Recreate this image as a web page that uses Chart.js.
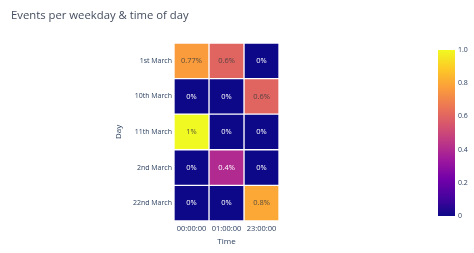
<!DOCTYPE html>
<html>
<head>
<meta charset="utf-8">
<script src="https://cdn.jsdelivr.net/npm/chart.js@4.4.1/dist/chart.umd.min.js"></script>
<style>
body { margin: 0; background: #fff; }
#wrap { position: relative; width: 474px; height: 253px; }
#heat { position: absolute; left: 0; top: 0; }
#barra { position: absolute; left: 430px; top: 0; }
</style>
</head>
<body>
<div id="wrap">
    <canvas id="heat" width="474" height="253"></canvas>
    <canvas id="barra" width="44" height="253"></canvas>
</div>
<script>
//#region dados
const days = ['1st March', '10th March', '11th March', '2nd March', '22nd March']
const times = ['00:00:00', '01:00:00', '23:00:00']

// um array por coluna (hora), na ordem dos dias
const val0000 = [0.77, 0, 1, 0, 0]
const val0100 = [0.6, 0, 0, 0.4, 0]
const val2300 = [0, 0.6, 0, 0, 0.8]

const colorTicks = [0, 0.2, 0.4, 0.6, 0.8, 1]
//#endregion

const plasmaStops = ['#0d0887', '#46039f', '#7201a8', '#9c179e', '#bd3786',
    '#d8576b', '#ed7953', '#fb9f3a', '#fdca26', '#f0f921']
const textColor = '#2a3f5f'
const fonte = '"Open Sans", "Noto Sans", sans-serif'

function hexRgb(h) {
    return [parseInt(h.substr(1, 2), 16), parseInt(h.substr(3, 2), 16), parseInt(h.substr(5, 2), 16)]
}

function plasma(v) {
    let p = Math.max(0, Math.min(1, v)) * (plasmaStops.length - 1)
    let i = Math.min(Math.floor(p), plasmaStops.length - 2)
    let t = p - i
    let a = hexRgb(plasmaStops[i])
    let b = hexRgb(plasmaStops[i + 1])
    let c = a.map((x, k) => Math.round(x + (b[k] - x) * t))
    return `rgb(${c[0]},${c[1]},${c[2]})`
}

//#region heatmap
const colunas = [val0000, val0100, val2300]

const datasets = colunas.map((vals, col) => ({
    label: times[col],
    data: vals.map(() => [col, col + 1]),
    valores: vals,
    backgroundColor: vals.map(v => plasma(v)),
    borderColor: '#ffffff',
    borderWidth: 1,
    borderSkipped: false,
    categoryPercentage: 1,
    barPercentage: 1
}))

const textoCelulas = {
    id: 'textoCelulas',
    afterDatasetsDraw(chart) {
        const ctx = chart.ctx
        chart.data.datasets.forEach((ds, i) => {
            chart.getDatasetMeta(i).data.forEach((bar, j) => {
                const v = ds.valores[j]
                const p = bar.getCenterPoint()
                ctx.save()
                ctx.font = '7.5px ' + fonte
                ctx.fillStyle = v >= 0.5 ? 'rgba(60,60,60,0.85)' : '#ffffff'
                ctx.textAlign = 'center'
                ctx.textBaseline = 'middle'
                ctx.fillText(v + '%', p.x, p.y)
                ctx.restore()
            })
        })
    }
}

new Chart(document.getElementById('heat'), {
    type: 'bar',
    data: { labels: days, datasets: datasets },
    plugins: [textoCelulas],
    options: {
        indexAxis: 'y',
        responsive: false,
        animation: false,
        layout: { padding: { left: 11, right: 195, top: 0, bottom: 4 } },
        plugins: {
            legend: { display: false },
            tooltip: { enabled: false },
            title: {
                display: true,
                text: 'Events per weekday & time of day',
                align: 'start',
                color: '#444d5f',
                font: { family: fonte, size: 11.3, weight: 'normal' },
                padding: { top: 8.5, bottom: 20.9 }
            }
        },
        scales: {
            x: {
                type: 'linear',
                min: 0,
                max: 3,
                stacked: false,
                afterBuildTicks: s => { s.ticks = times.map((t, i) => ({ value: i + 0.5 })) },
                afterFit: s => { s.height = 28 },
                ticks: {
                    autoSkip: false,
                    maxRotation: 0,
                    padding: 3,
                    color: textColor,
                    font: { family: fonte, size: 7.5 },
                    callback: (v, i) => times[i]
                },
                grid: { display: false, drawTicks: false },
                border: { display: false },
                title: {
                    display: true,
                    text: 'Time',
                    color: textColor,
                    font: { family: fonte, size: 8 },
                    padding: { top: 0, bottom: 2.6 }
                }
            },
            y: {
                type: 'category',
                stacked: true,
                offset: true,
                afterFit: s => { s.width = 163 },
                ticks: {
                    padding: 2,
                    color: textColor,
                    font: { family: fonte, size: 7 }
                },
                grid: { display: false, drawTicks: false },
                border: { display: false },
                title: {
                    display: true,
                    text: 'Day',
                    color: textColor,
                    font: { family: fonte, size: 8 },
                    padding: { top: 103, bottom: 0 }
                }
            }
        }
    }
})
//#endregion

//#region barra de cores
function gradiente(context) {
    const chart = context.chart
    const area = chart.chartArea
    if (!area) return plasmaStops[0]
    const g = chart.ctx.createLinearGradient(0, area.bottom, 0, area.top)
    plasmaStops.forEach((c, i) => g.addColorStop(i / (plasmaStops.length - 1), c))
    return g
}

new Chart(document.getElementById('barra'), {
    type: 'bar',
    data: {
        labels: [''],
        datasets: [{
            data: [[colorTicks[0], colorTicks[colorTicks.length - 1]]],
            backgroundColor: gradiente,
            borderWidth: 0,
            categoryPercentage: 1,
            barPercentage: 1
        }]
    },
    options: {
        responsive: false,
        animation: false,
        layout: { padding: { left: 8, right: 0, top: 50, bottom: 37 } },
        plugins: { legend: { display: false }, tooltip: { enabled: false } },
        scales: {
            x: { display: false },
            y: {
                position: 'right',
                min: colorTicks[0],
                max: colorTicks[colorTicks.length - 1],
                afterBuildTicks: s => { s.ticks = colorTicks.map(v => ({ value: v })) },
                afterFit: s => { s.width = 19 },
                ticks: {
                    padding: 3,
                    color: textColor,
                    font: { family: fonte, size: 7 }
                },
                grid: { display: false, drawTicks: false },
                border: { display: false }
            }
        }
    }
})
//#endregion
</script>
</body>
</html>
